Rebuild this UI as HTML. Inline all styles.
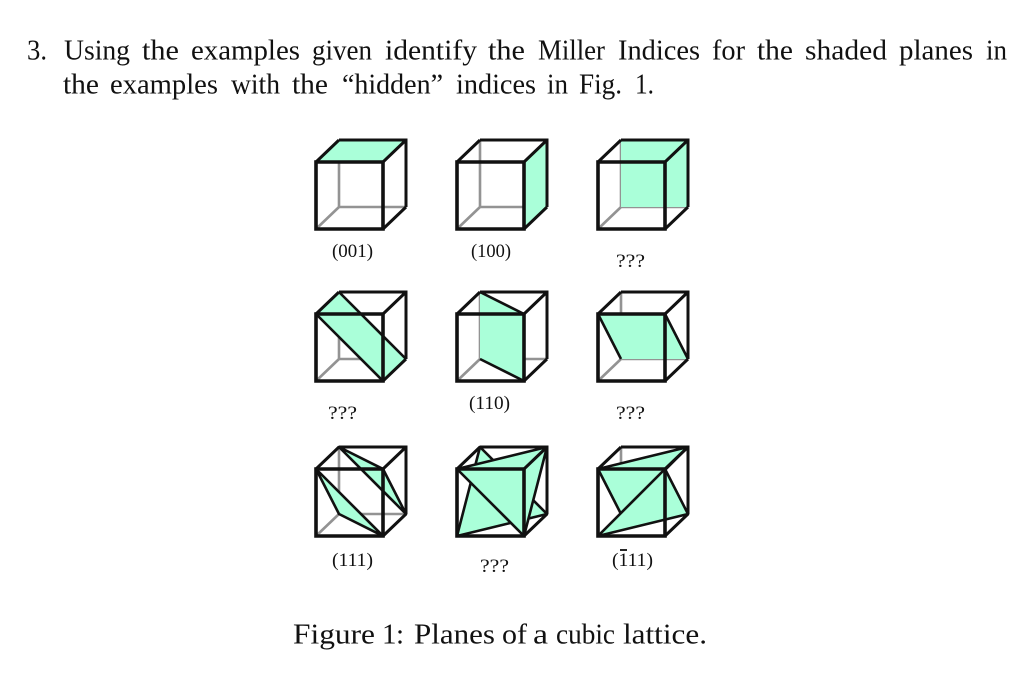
<!DOCTYPE html>
<html><head><meta charset="utf-8"><style>html,body{margin:0;padding:0;background:#fff}svg{display:block}text{font-family:"Liberation Serif",serif;fill:#111}.h{font-size:29px}.l{font-size:19px}</style></head><body>
<svg width="1024" height="700" viewBox="0 0 1024 700" xmlns="http://www.w3.org/2000/svg">
<defs>
<g id="gray" fill="none" stroke="#939393" stroke-width="2.6"><path d="M23 0V67H90M23 67L0 89"/></g>
<g id="edges" fill="none" stroke="#111" stroke-linejoin="miter"><path stroke-width="3" d="M23 0H90V67M0 22L23 0M67 22L90 0M67 89L90 67"/><path stroke-width="3.6" d="M0 22H67V89H0Z"/></g>
</defs>
<text class="h" x="27" y="59.5" textLength="20" lengthAdjust="spacingAndGlyphs">3.</text>
<text class="h" x="64" y="59.5" textLength="66" lengthAdjust="spacingAndGlyphs">Using</text>
<text class="h" x="142" y="59.5" textLength="37" lengthAdjust="spacingAndGlyphs">the</text>
<text class="h" x="191" y="59.5" textLength="109" lengthAdjust="spacingAndGlyphs">examples</text>
<text class="h" x="312" y="59.5" textLength="60" lengthAdjust="spacingAndGlyphs">given</text>
<text class="h" x="385" y="59.5" textLength="92" lengthAdjust="spacingAndGlyphs">identify</text>
<text class="h" x="488" y="59.5" textLength="37" lengthAdjust="spacingAndGlyphs">the</text>
<text class="h" x="538" y="59.5" textLength="67" lengthAdjust="spacingAndGlyphs">Miller</text>
<text class="h" x="618" y="59.5" textLength="82" lengthAdjust="spacingAndGlyphs">Indices</text>
<text class="h" x="712" y="59.5" textLength="33" lengthAdjust="spacingAndGlyphs">for</text>
<text class="h" x="757" y="59.5" textLength="36" lengthAdjust="spacingAndGlyphs">the</text>
<text class="h" x="805" y="59.5" textLength="82" lengthAdjust="spacingAndGlyphs">shaded</text>
<text class="h" x="899" y="59.5" textLength="74" lengthAdjust="spacingAndGlyphs">planes</text>
<text class="h" x="986" y="59.5" textLength="21" lengthAdjust="spacingAndGlyphs">in</text>
<text class="h" x="63" y="93.5" textLength="36" lengthAdjust="spacingAndGlyphs">the</text>
<text class="h" x="110" y="93.5" textLength="108" lengthAdjust="spacingAndGlyphs">examples</text>
<text class="h" x="231" y="93.5" textLength="49" lengthAdjust="spacingAndGlyphs">with</text>
<text class="h" x="292" y="93.5" textLength="36" lengthAdjust="spacingAndGlyphs">the</text>
<text class="h" x="342" y="93.5" textLength="101" lengthAdjust="spacingAndGlyphs">“hidden”</text>
<text class="h" x="456" y="93.5" textLength="80" lengthAdjust="spacingAndGlyphs">indices</text>
<text class="h" x="547" y="93.5" textLength="21" lengthAdjust="spacingAndGlyphs">in</text>
<text class="h" x="579" y="93.5" textLength="43" lengthAdjust="spacingAndGlyphs">Fig.</text>
<text class="h" x="635" y="93.5" textLength="19" lengthAdjust="spacingAndGlyphs">1.</text>

<!-- row 1 -->
<g transform="translate(316,140)"><use href="#gray"/><path fill="#aaffd9" d="M0 22H67L90 0H23Z"/><use href="#edges"/></g>
<g transform="translate(457,140)"><use href="#gray"/><path fill="#aaffd9" d="M67 22L90 0V67L67 89Z"/><use href="#edges"/></g>
<g transform="translate(598,140)"><use href="#gray"/><path fill="#aaffd9" d="M23 0H90V67H23Z"/><use href="#edges"/></g>
<!-- row 2 -->
<g transform="translate(316,292)"><use href="#gray"/><path fill="#aaffd9" d="M0 22L23 0L90 67L67 89Z"/><path fill="none" stroke="#111" stroke-width="2.6" d="M0 22L67 89M23 0L90 67"/><use href="#edges"/></g>
<g transform="translate(457,292)"><use href="#gray"/><path fill="#aaffd9" d="M23 0L67 22V89L23 67Z"/><path fill="none" stroke="#111" stroke-width="2.6" d="M23 0L67 22M23 67L67 89"/><use href="#edges"/></g>
<g transform="translate(598,292)"><use href="#gray"/><path fill="#aaffd9" d="M0 22H67L90 67H23Z"/><path fill="none" stroke="#111" stroke-width="2.6" d="M0 22L23 67M67 22L90 67"/><use href="#edges"/></g>
<!-- row 3 -->
<g transform="translate(316,447)"><use href="#gray"/><path fill="#aaffd9" stroke="#111" stroke-width="2.6" stroke-linejoin="round" d="M23 0L67 22L90 67ZM0 22L23 67L67 89Z"/><use href="#edges"/></g>
<g transform="translate(457,447)"><use href="#gray"/><path fill="#aaffd9" stroke="#111" stroke-width="2.6" stroke-linejoin="round" d="M0 89L23 0L90 67Z"/><path fill="#aaffd9" stroke="#111" stroke-width="2.6" stroke-linejoin="round" d="M0 22L90 0L67 89Z"/><use href="#edges"/></g>
<g transform="translate(598,447)"><use href="#gray"/><path fill="#aaffd9" stroke="#111" stroke-width="2.6" stroke-linejoin="round" d="M0 22L90 0L23 67Z"/><path fill="#aaffd9" stroke="#111" stroke-width="2.6" stroke-linejoin="round" d="M0 89L67 22L90 67Z"/><use href="#edges"/></g>

<text class="l" x="332" y="257" textLength="41" lengthAdjust="spacingAndGlyphs">(001)</text>
<text class="l" x="471" y="257" textLength="40" lengthAdjust="spacingAndGlyphs">(100)</text>
<text class="l" x="616" y="267" textLength="29" lengthAdjust="spacingAndGlyphs">???</text>
<text class="l" x="328" y="419" textLength="29" lengthAdjust="spacingAndGlyphs">???</text>
<text class="l" x="469" y="409" textLength="41" lengthAdjust="spacingAndGlyphs">(110)</text>
<text class="l" x="616" y="419" textLength="29" lengthAdjust="spacingAndGlyphs">???</text>
<text class="l" x="332" y="566" textLength="41" lengthAdjust="spacingAndGlyphs">(111)</text>
<text class="l" x="480" y="572" textLength="29" lengthAdjust="spacingAndGlyphs">???</text>
<text class="l" x="612" y="566" textLength="41" lengthAdjust="spacingAndGlyphs">(111)</text>
<path d="M620 550H627" stroke="#111" stroke-width="1.8"/>

<text class="h" x="293" y="643.5" textLength="82" lengthAdjust="spacingAndGlyphs">Figure</text>
<text class="h" x="382" y="643.5">1</text>
<text class="h" x="396" y="643.5">:</text>
<text class="h" x="414" y="643.5" textLength="81" lengthAdjust="spacingAndGlyphs">Planes</text>
<text class="h" x="502" y="643.5" textLength="25" lengthAdjust="spacingAndGlyphs">of</text>
<text class="h" x="533" y="643.5" textLength="15" lengthAdjust="spacingAndGlyphs">a</text>
<text class="h" x="556" y="643.5" textLength="59" lengthAdjust="spacingAndGlyphs">cubic</text>
<text class="h" x="623" y="643.5" textLength="84" lengthAdjust="spacingAndGlyphs">lattice.</text>
</svg>
</body></html>
